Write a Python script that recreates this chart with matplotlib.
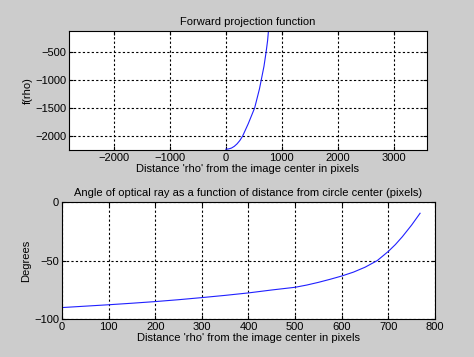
import matplotlib.pyplot as plt

plt.rcParams["font.family"] = ["Liberation Sans", "DejaVu Sans"]
plt.rcParams["font.size"] = 8

# forward projection f(rho)
rho_f = [0, 50, 100, 150, 200, 250, 300, 400, 514, 600, 632, 680, 719, 745, 760, 775]
f_rho = [-2236, -2230, -2215, -2185, -2140, -2080, -2000, -1780, -1500, -1160, -1000, -760, -500, -300, -130, 20]

# angle of optical ray
rho_a = [0, 50, 100, 150, 200, 250, 300, 350, 400, 450, 500, 525, 550, 575, 600, 625, 650,
         676, 700, 715, 730, 750, 768]
angle = [-90, -88.8, -87.6, -86.3, -84.9, -83.3, -81.5, -79.6, -77.5, -75.0, -72.7, -70.8, -68.5,
         -65.9, -63.1, -59.8, -55.6, -50, -42.1, -36.3, -29.6, -19.6, -9.6]

top_xticks = [-2000, -1000, 0, 1000, 2000, 3000]
top_yticks = [-2000, -1500, -1000, -500]
bot_xticks = [0, 100, 200, 300, 400, 500, 600, 700, 800]
bot_yticks = [-100, -50, 0]

fig = plt.figure(figsize=(4.74, 3.57), dpi=100, facecolor="#cccccc")
ax1 = fig.add_axes([0.1456, 0.5798, 0.7552, 0.3334])
ax2 = fig.add_axes([0.1308, 0.1056, 0.7869, 0.3286])

grid_kw = dict(color="black", linestyle=(0, (2, 2)), linewidth=0.8)

ax1.plot(rho_f, f_rho, color="#2020ff", linewidth=0.8)
ax1.set_xlim(-2800, 3590)
ax1.set_ylim(-2250, -130)
ax1.set_xticks(top_xticks)
ax1.set_yticks(top_yticks)
ax1.set_title("Forward projection function", fontsize=8, pad=4)
ax1.set_xlabel("Distance 'rho' from the image center in pixels", labelpad=1)
ax1.set_ylabel("f(rho)", labelpad=2)

ax2.plot(rho_a, angle, color="#2020ff", linewidth=0.8)
ax2.set_xlim(0, 800)
ax2.set_ylim(-100, 0)
ax2.set_xticks(bot_xticks)
ax2.set_yticks(bot_yticks)
ax2.set_title("Angle of optical ray as a function of distance from circle center (pixels)", fontsize=8, pad=4)
ax2.set_xlabel("Distance 'rho' from the image center in pixels", labelpad=1)
ax2.set_ylabel("Degrees", labelpad=2)

for ax in (ax1, ax2):
    ax.set_facecolor("white")
    ax.grid(True, **grid_kw)
    ax.tick_params(direction="in", length=3, top=True, right=True, pad=2)
    for s in ax.spines.values():
        s.set_linewidth(0.8)

fig.savefig("out.png", dpi=100, facecolor=fig.get_facecolor())
